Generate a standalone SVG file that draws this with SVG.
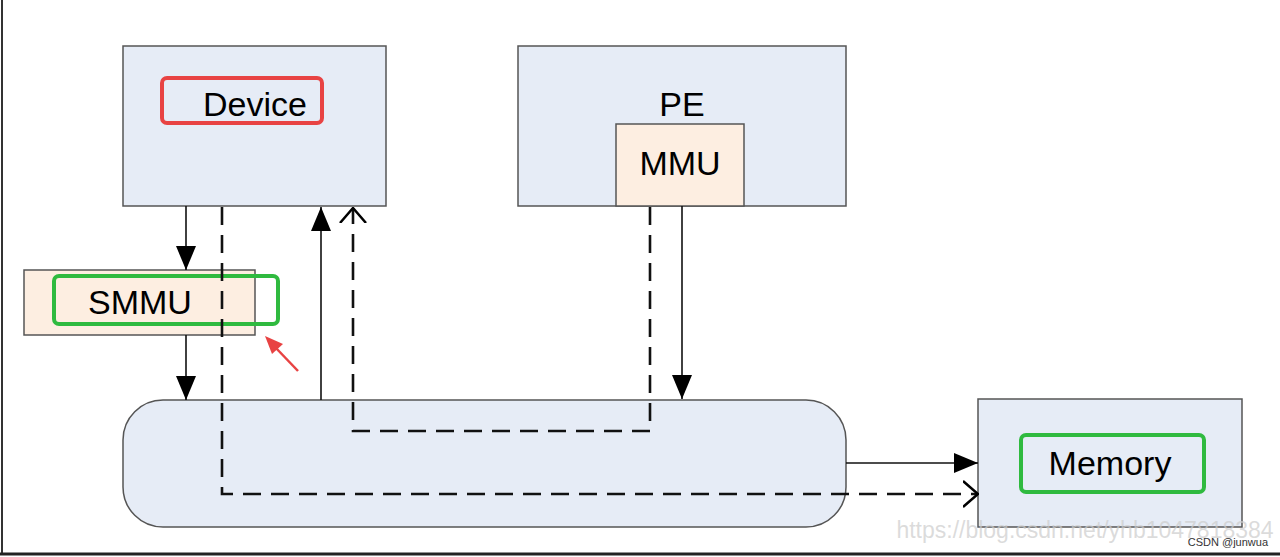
<svg xmlns="http://www.w3.org/2000/svg" width="1280" height="557" viewBox="0 0 1280 557">
<style>
.box{fill:#e6ecf6;stroke:#555;stroke-width:1.5}
.sub{fill:#fdeee1;stroke:#555;stroke-width:1.5}
.t{font-family:"Liberation Sans",Arial,sans-serif;font-size:34px;fill:#000;text-anchor:middle;dominant-baseline:central}
.s{stroke:#111;stroke-width:1.6;fill:none}
.d{stroke:#111;stroke-width:2.6;fill:none;stroke-dasharray:18 10}
.g{fill:none;stroke:#2fba3f;stroke-width:4}
</style>
<defs>
<marker id="fb" viewBox="0 0 24 20" refX="24" refY="10" markerWidth="24" markerHeight="20" markerUnits="userSpaceOnUse" orient="auto"><path d="M0,0 L24,10 L0,20 Z" fill="#000"/></marker>
<marker id="o" viewBox="0 0 16 28" refX="15" refY="14" markerWidth="16" markerHeight="28" markerUnits="userSpaceOnUse" orient="auto"><path d="M0,1 L15,14 L0,27" fill="none" stroke="#000" stroke-width="2.5"/></marker>
</defs>
<rect width="1280" height="557" fill="#fff"/>
<line x1="2" y1="0" x2="2" y2="555" stroke="#333" stroke-width="2"/>
<line x1="0" y1="554" x2="1280" y2="554" stroke="#222" stroke-width="3"/>
<g id="bus"><rect class="box" x="123" y="400" width="723" height="127" rx="40"/></g>
<g id="device"><rect class="box" x="123" y="46" width="263" height="160"/>
<rect x="162" y="78" width="160" height="45" rx="5" fill="none" stroke="#e84343" stroke-width="4"/>
<text class="t" x="255" y="104">Device</text></g>
<g id="pe"><rect class="box" x="518" y="46" width="328" height="160"/>
<text class="t" x="682" y="104">PE</text></g>
<g id="mmu"><rect class="sub" x="616" y="124" width="128" height="82"/>
<text class="t" x="680" y="163">MMU</text></g>
<g id="smmu"><rect class="sub" x="24" y="270" width="231" height="65"/>
<rect class="g" x="54" y="276" width="224" height="48" rx="5"/>
<text class="t" x="140" y="302">SMMU</text></g>
<g id="memory"><rect class="box" x="978" y="399" width="264" height="128"/>
<rect class="g" x="1021" y="435" width="183" height="57" rx="5"/>
<text class="t" x="1110" y="463">Memory</text></g>
<g id="connectors">
<line class="s" x1="186" y1="206" x2="186" y2="270" marker-end="url(#fb)"/>
<line class="s" x1="186" y1="335" x2="186" y2="400" marker-end="url(#fb)"/>
<line class="s" x1="321" y1="400" x2="321" y2="207" marker-end="url(#fb)"/>
<line class="s" x1="682" y1="206" x2="682" y2="399" marker-end="url(#fb)"/>
<line class="s" x1="846" y1="463" x2="978" y2="463" marker-end="url(#fb)"/>
<polyline class="d" points="222,207 222,494 978,494" marker-end="url(#o)"/>
<polyline class="d" points="650,207 650,431 353,431 353,208" marker-end="url(#o)"/>
</g>
<g id="annot">
<line x1="298" y1="371" x2="275" y2="347" stroke="#e84343" stroke-width="2.5"/>
<path d="M265,336 L283,344 L272,354 Z" fill="#e84343"/>
</g>
<text x="1085" y="538" font-family="Liberation Sans,Arial,sans-serif" font-size="23" fill="#ccc" fill-opacity="0.7" text-anchor="middle">https://blog.csdn.net/yhb1047818384</text>
<text x="1268" y="546" font-family="Liberation Sans,Arial,sans-serif" font-size="11" fill="#333" text-anchor="end">CSDN @junwua</text>
</svg>
